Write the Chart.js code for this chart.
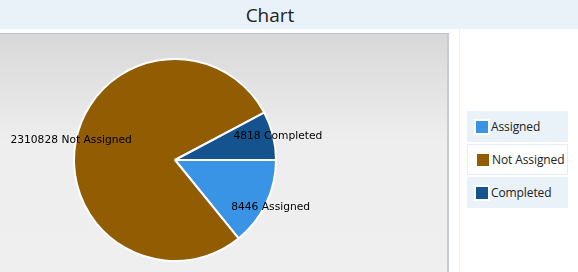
<!DOCTYPE html>
<html>
<head>
<meta charset="utf-8">
<script src="https://cdn.jsdelivr.net/npm/chart.js@4"></script>
<style>
    html, body { margin: 0; padding: 0; width: 578px; height: 272px; overflow: hidden; background: #fff; font-family: "Open Sans", sans-serif; }
    #title-bar { position: absolute; left: 0; top: 0; width: 578px; height: 29px; background: #e9f1f9; }
    #title { position: absolute; left: 270px; top: 2px; transform: translateX(-50%); font-size: 19px; color: #222; }
    #plot { position: absolute; left: 0; top: 33px; width: 447px; height: 239px; border-top: 1px solid #b9c1cf; border-right: 2px solid #c6cad2; background: linear-gradient(#d8d8d8, #eeeeee 45%, #efefef); }
    #pieChart { position: absolute; left: 0; top: 1px; }
    #divider { position: absolute; left: 459px; top: 29px; width: 1px; height: 243px; background: #eef0f2; }
    #legend { position: absolute; left: 467px; top: 111px; width: 101px; }
    .legend-item { box-sizing: border-box; height: 31px; margin-bottom: 2px; background: #e9f1f9; font-size: 12px; color: #222; display: flex; align-items: center; padding-left: 7px; letter-spacing: -0.1px; }
    .legend-item.alt { background: #fff; border: 1px solid #e6edf4; height: 31px; }
    .swatch { width: 12px; height: 12px; border: 2px solid #fff; margin-right: 1px; }
</style>
</head>
<body>
<div id="title-bar"><div id="title">Chart</div></div>
<div id="plot"><canvas id="pieChart" width="447" height="238"></canvas></div>
<div id="divider"></div>
<div id="legend"></div>
<script>
document.addEventListener('DOMContentLoaded', () => {
    // Kategorien, angezeigte Zahlen und Segmentgrößen (Winkel in Grad)
    const categories = ['Assigned', 'Not Assigned', 'Completed'];
    const counts = [8446, 2310828, 4818];
    const sliceShares = [51, 281, 28];
    const sliceColors = ['#3a94e6', '#915c02', '#15538f'];

    const legendElement = document.getElementById('legend');
    categories.forEach((name, i) => {
        const item = document.createElement('div');
        item.className = 'legend-item' + (i === 1 ? ' alt' : '');
        item.innerHTML = `<span class="swatch" style="background:${sliceColors[i]}"></span><span>${name}</span>`;
        legendElement.appendChild(item);
    });

    // Beschriftung außen am Segment
    const sliceLabels = {
        id: 'sliceLabels',
        afterDatasetsDraw(chart) {
            const ctx = chart.ctx;
            const meta = chart.getDatasetMeta(0);
            ctx.save();
            ctx.font = '10.7px "DejaVu Sans", Verdana, sans-serif';
            ctx.fillStyle = '#000';
            ctx.textAlign = 'center';
            ctx.textBaseline = 'middle';
            meta.data.forEach((arc, i) => {
                const p = arc.getProps(['x', 'y', 'startAngle', 'endAngle', 'outerRadius']);
                const mid = (p.startAngle + p.endAngle) / 2;
                const r = p.outerRadius + 5;
                ctx.fillText(`${counts[i]} ${categories[i]}`, p.x + Math.cos(mid) * r, p.y + Math.sin(mid) * r + 1.5);
            });
            ctx.restore();
        }
    };

    new Chart(document.getElementById('pieChart'), {
        type: 'pie',
        data: {
            labels: categories,
            datasets: [{
                data: sliceShares,
                backgroundColor: sliceColors,
                borderColor: '#ffffff',
                borderWidth: 2
            }]
        },
        options: {
            responsive: false,
            animation: false,
            rotation: 90,
            layout: { padding: { left: 73, right: 170, top: 23, bottom: 11 } },
            plugins: {
                legend: { display: false },
                tooltip: { enabled: false },
                title: { display: false }
            }
        },
        plugins: [sliceLabels]
    });
});
</script>
</body>
</html>
